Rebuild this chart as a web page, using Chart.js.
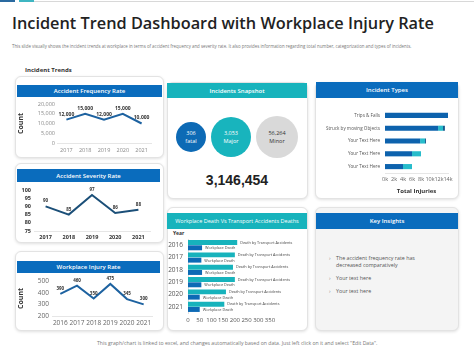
<!DOCTYPE html>
<html><head><meta charset="utf-8">
<script src="https://cdn.jsdelivr.net/npm/chart.js@4.4.1/dist/chart.umd.min.js"></script>
<style>
html,body{margin:0;padding:0;background:#fff;}
#root{position:relative;width:474px;height:355px;overflow:hidden;font-family:"Open Sans",sans-serif;}
.abs{position:absolute;}
.card{position:absolute;background:#fff;border:1px solid #e3e3e3;border-radius:6px;box-shadow:0 1px 3px rgba(0,0,0,0.12);box-sizing:border-box;}
.hdr{position:absolute;color:#fff;font-size:6px;font-weight:600;text-align:center;display:flex;align-items:center;justify-content:center;}
.blue{background:#0a6cbd;}
.teal{background:#17b3bc;}
.fit{white-space:nowrap;}
canvas{display:block;}
.circ{position:absolute;border-radius:50%;display:flex;align-items:center;justify-content:center;text-align:center;font-size:5.5px;line-height:8px;}
.bul{position:absolute;font-size:5.3px;color:#555;line-height:7px;}
</style></head>
<body>
<div id="root">
  <div class="abs" style="left:0;top:0;width:15px;height:2px;background:#2a6aa0"></div>
  <div class="abs" style="left:19px;top:0;width:15px;height:2px;background:#3fb6c2"></div>
  <div class="abs" style="left:34px;top:1px;width:440px;height:1px;background:#d8d8d8"></div>

  <div id="title" class="abs fit" data-w="422" style="left:12px;top:12px;font-weight:600;color:#222;font-size:16.5px;line-height:22px;">Incident Trend Dashboard with Workplace Injury Rate</div>
  <div id="sub" class="abs fit" data-w="400" style="left:12px;top:43px;color:#777;font-size:4.5px;line-height:6px;">This slide visually shows the incident trends at workplace in terms of accident frequency and severity rate. It also provides information regarding total number, categorization and types of incidents.</div>

  <div class="abs" style="left:25px;top:66px;font-size:6px;font-weight:700;color:#333;">Incident Trends</div>

  <!-- left column -->
  <div class="card" style="left:15px;top:76px;width:149px;height:82px;"></div>
  <div class="hdr blue" style="left:17px;top:85px;width:145px;height:12px;">Accident Frequency Rate</div>
  <div class="abs" style="left:17px;top:97px;width:145px;height:60px;"><canvas id="c1" width="145" height="60"></canvas></div>

  <div class="card" style="left:15px;top:163px;width:149px;height:80px;"></div>
  <div class="hdr blue" style="left:17px;top:169px;width:143px;height:13px;">Accident Severity Rate</div>
  <div class="abs" style="left:17px;top:183px;width:143px;height:58px;"><canvas id="c2" width="143" height="58"></canvas></div>

  <div class="card" style="left:15px;top:251px;width:149px;height:80px;"></div>
  <div class="hdr blue" style="left:17px;top:261px;width:143px;height:12px;">Workplace Injury Rate</div>
  <div class="abs" style="left:17px;top:273px;width:143px;height:56px;"><canvas id="c3" width="143" height="56"></canvas></div>

  <!-- middle column -->
  <div class="card" style="left:167px;top:82px;width:141px;height:117px;"></div>
  <div class="hdr teal" style="left:167px;top:83px;width:140px;height:15px;">Incidents Snapshot</div>
  <div id="snap" class="abs" style="left:167px;top:115px;width:140px;height:44px;display:flex;align-items:center;justify-content:center;gap:5px;"></div>
  <div id="total" class="abs" style="left:167px;top:171px;width:140px;text-align:center;font-family:'Liberation Sans',Arial,sans-serif;font-weight:700;font-size:14px;color:#222;line-height:18px;"></div>

  <div class="card" style="left:167px;top:207px;width:141px;height:124px;"></div>
  <div class="hdr teal" style="left:167px;top:213px;width:140px;height:16px;font-size:5.5px;font-weight:400;">Workplace Death Vs Transport Accidents Deaths</div>
  <div class="abs" style="left:173px;top:230px;font-size:5px;font-weight:700;color:#333;">Year</div>
  <div class="abs" style="left:167px;top:229px;width:140px;height:100px;"><canvas id="c4" width="140" height="100"></canvas></div>

  <!-- right column -->
  <div class="card" style="left:315px;top:82px;width:144px;height:117px;"></div>
  <div class="hdr blue" style="left:316px;top:82px;width:142px;height:16px;">Incident Types</div>
  <div class="abs" style="left:316px;top:99px;width:142px;height:99px;"><canvas id="c5" width="142" height="99"></canvas></div>

  <div class="card" style="left:315px;top:207px;width:144px;height:124px;background:#f4f4f4;"></div>
  <div class="hdr blue" style="left:316px;top:213px;width:142px;height:16px;">Key Insights</div>
  <div id="ins"></div>

  <div id="foot" class="abs fit" data-w="281" style="left:97px;top:340px;color:#777;font-size:5px;line-height:6px;">This graph/chart is linked to excel, and changes automatically based on data. Just left click on it and select "Edit Data".</div>
</div>
<script>
// ---------- data ----------
const freqYears = ['2017','2018','2019','2020','2021'];
const freqValues = [12000, 15000, 12000, 15000, 10000];
const sevYears = ['2017','2018','2019','2020','2021'];
const sevValues = [90, 85, 97, 86, 88];
const injYears = ['2016','2017','2018','2019','2020','2021'];
const injValues = [390, 460, 350, 475, 345, 300];
const snapLabels = ['fatal','Major','Minor'];
const snapValues = ['306','3,053','56,264'];
const snapTotal = '3,146,454';
const deathYears = ['2016','2017','2018','2019','2020','2021'];
const transportDeaths = [210, 200, 192, 200, 162, 155];
const workplaceDeaths = [60, 57, 60, 57, 50, 50];
const typeLabels = ['Trips & Falls','Struck by moving Objects','Your Text Here','Your Text Here','Your Text Here'];
const typeSeriesA = [14000, 11800, 7800, 6000, 4000];
const typeSeriesB = [0, 1100, 1100, 2000, 2000];
const typeSeriesC = [0, 400, 200, 0, 0];
const insights = ['The accident frequency rate has decreased comparatively','Your text here','Your text here'];

// ---------- text fitting ----------
const mctx = document.createElement('canvas').getContext('2d');
document.querySelectorAll('.fit').forEach(el=>{
  const cs = getComputedStyle(el);
  mctx.font = cs.fontWeight+' '+cs.fontSize+' '+cs.fontFamily;
  const w = mctx.measureText(el.textContent).width;
  const target = +el.dataset.w;
  el.style.fontSize = (parseFloat(cs.fontSize)*target/w)+'px';
});

// ---------- snapshot ----------
const snapStyle = [
  {d:30,bg:'#0d6ab5',c:'#fff'},
  {d:40,bg:'#18b4bd',c:'#fff'},
  {d:42,bg:'#d9d9d9',c:'#333'}
];
const snap = document.getElementById('snap');
snapValues.forEach((v,i)=>{
  const d = document.createElement('div');
  d.className='circ';
  d.style.cssText = `position:relative;width:${snapStyle[i].d}px;height:${snapStyle[i].d}px;background:${snapStyle[i].bg};color:${snapStyle[i].c};`;
  d.innerHTML = v+'<br>'+snapLabels[i];
  snap.appendChild(d);
});
document.getElementById('total').textContent = snapTotal;

// ---------- insights ----------
const ins = document.getElementById('ins');
let iy = 255;
insights.forEach((t,i)=>{
  const b = document.createElement('div');
  b.className='bul';
  b.style.left='329px'; b.style.top=iy+'px'; b.style.width='112px';
  b.innerHTML = '<span style="position:absolute;left:0;color:#888">›</span><div style="margin-left:7px">'+t+'</div>';
  ins.appendChild(b);
  iy += (i===0?20:13);
});

// ---------- charts ----------
Chart.defaults.font.family = "'Open Sans', sans-serif";
Chart.defaults.animation = false;
Chart.defaults.responsive = false;
Chart.defaults.plugins.legend.display = false;
Chart.defaults.plugins.tooltip.enabled = false;
const noGrid = {display:false, drawTicks:false};

function lineLabels(fmt, color, size, off){
  return {id:'ll', afterDatasetsDraw(chart){
    const ctx = chart.ctx; const meta = chart.getDatasetMeta(0);
    ctx.save(); ctx.font = `bold ${size}px 'Open Sans', sans-serif`; ctx.fillStyle = color;
    ctx.textAlign='center'; ctx.textBaseline='bottom';
    meta.data.forEach((p,i)=>{ ctx.fillText(fmt(chart.data.datasets[0].data[i]), p.x, p.y-off); });
    ctx.restore();
  }};
}

// Chart 1
new Chart(document.getElementById('c1'),{
  type:'line',
  data:{labels:freqYears,datasets:[{data:freqValues,borderColor:'#1d62a0',borderWidth:2,pointRadius:0,tension:0}]},
  options:{
    layout:{padding:{left:0,right:11,top:7,bottom:0}},
    scales:{
      x:{offset:true,grid:noGrid,border:{color:'#e6e6e6'},ticks:{color:'#888',font:{size:5.5},padding:4,maxRotation:0,autoSkip:false},afterFit(s){s.height=14;}},
      y:{min:0,max:20000,grid:noGrid,border:{display:false},
         ticks:{stepSize:5000,color:'#888',font:{size:5.5},padding:2,autoSkip:false,callback:v=>v.toLocaleString('en-US')},
         title:{display:true,text:'Count',color:'#333',font:{size:7,weight:'bold'},padding:0},
         afterFit(s){s.width=40;}}
    }
  },
  plugins:[lineLabels(v=>v.toLocaleString('en-US'),'#333',5,3)]
});

// Chart 2
new Chart(document.getElementById('c2'),{
  type:'line',
  data:{labels:sevYears,datasets:[{data:sevValues,borderColor:'#1b4f78',borderWidth:2,pointRadius:0,tension:0}]},
  options:{
    layout:{padding:{left:0,right:10,top:7,bottom:0}},
    scales:{
      x:{offset:true,grid:noGrid,border:{color:'#e6e6e6'},ticks:{color:'#333',font:{size:5.5,weight:'bold'},padding:3,maxRotation:0,autoSkip:false},afterFit(s){s.height=10;}},
      y:{min:75,max:100,grid:noGrid,border:{display:false},
         ticks:{stepSize:5,color:'#333',font:{size:5.5,weight:'bold'},padding:3,autoSkip:false},
         afterFit(s){s.width=17;}}
    }
  },
  plugins:[lineLabels(v=>String(v),'#333',4.5,3)]
});

// Chart 3
new Chart(document.getElementById('c3'),{
  type:'line',
  data:{labels:injYears,datasets:[{data:injValues,borderColor:'#1d62a0',borderWidth:2,pointRadius:0,tension:0}]},
  options:{
    layout:{padding:{left:0,right:8,top:8,bottom:0}},
    scales:{
      x:{offset:true,grid:noGrid,border:{color:'#e6e6e6'},ticks:{color:'#666',font:{size:6.5},padding:3,maxRotation:0,autoSkip:false},afterFit(s){s.height=13;}},
      y:{min:200,max:500,grid:noGrid,border:{display:false},
         ticks:{stepSize:100,color:'#666',font:{size:6.5},padding:3,autoSkip:false},
         title:{display:true,text:'Count',color:'#333',font:{size:7,weight:'bold'},padding:0},
         afterFit(s){s.width=35;}}
    }
  },
  plugins:[lineLabels(v=>String(v),'#333',4.5,3)]
});

// Chart 4 - death
const barText = {id:'bt', afterDatasetsDraw(chart){
  const ctx = chart.ctx; ctx.save();
  ctx.font = "3.8px 'Open Sans', sans-serif"; ctx.fillStyle='#444'; ctx.textBaseline='middle'; ctx.textAlign='left';
  chart.data.datasets.forEach((ds,di)=>{
    chart.getDatasetMeta(di).data.forEach(b=>{ ctx.fillText(ds.label, b.x+3, b.y+(di===1?0.5:0)); });
  });
  ctx.restore();
}};
new Chart(document.getElementById('c4'),{
  type:'bar',
  data:{labels:deathYears,datasets:[
    {label:'Death by Transport Accidents',data:transportDeaths,backgroundColor:'#17b3bc',categoryPercentage:0.85,barPercentage:0.95},
    {label:'Workplace Death',data:workplaceDeaths,backgroundColor:'#0d6ab5',categoryPercentage:0.85,barPercentage:0.95}
  ]},
  options:{
    indexAxis:'y',
    layout:{padding:{left:0,right:37,top:10,bottom:0}},
    scales:{
      x:{min:0,max:350,grid:noGrid,border:{display:false},ticks:{stepSize:50,color:'#555',font:{size:6},padding:4,maxRotation:0,autoSkip:false},afterFit(s){s.height=16;}},
      y:{grid:noGrid,border:{color:'#e0e0e0'},ticks:{color:'#555',font:{size:6.5},padding:5,autoSkip:false},afterFit(s){s.width=21;}}
    }
  },
  plugins:[barText]
});

// Chart 5 - incident types
new Chart(document.getElementById('c5'),{
  type:'bar',
  data:{labels:typeLabels,datasets:[
    {data:typeSeriesA,backgroundColor:'#0d62ad',barPercentage:0.4,categoryPercentage:1},
    {data:typeSeriesB,backgroundColor:'#27bccb',barPercentage:0.4,categoryPercentage:1},
    {data:typeSeriesC,backgroundColor:'#0b4f86',barPercentage:0.4,categoryPercentage:1}
  ]},
  options:{
    indexAxis:'y',
    layout:{padding:{left:0,right:10,top:10,bottom:0}},
    scales:{
      x:{stacked:true,min:0,max:14000,grid:noGrid,border:{color:'#e6e6e6'},
         ticks:{stepSize:2000,color:'#666',font:{size:5.5},padding:3,maxRotation:0,autoSkip:false,callback:v=>(v/1000)+'k'},
         title:{display:true,text:'Total Injuries',color:'#333',font:{size:6,weight:'bold'},padding:{top:3,bottom:3}},
         afterFit(s){s.height=25;}},
      y:{stacked:true,grid:noGrid,border:{display:false},ticks:{color:'#555',font:{size:4.6},padding:5,autoSkip:false},afterFit(s){s.width=69;}}
    }
  }
});
</script>
</body></html>
